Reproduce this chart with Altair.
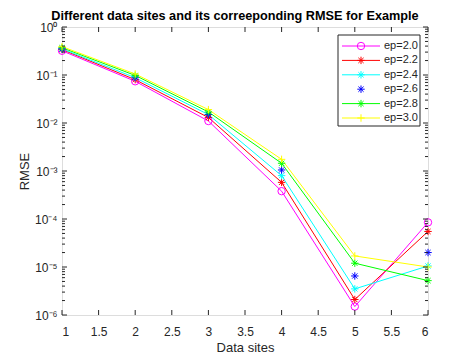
import altair as alt
import pandas as pd

sites = [1, 2, 3, 4, 5, 6]
series_names = ["ep=2.0", "ep=2.2", "ep=2.4", "ep=2.6", "ep=2.8", "ep=3.0"]
colors = ["#ff00ff", "#ff0000", "#00ffff", "#0000ff", "#00ff00", "#ffff00"]
rmse_20 = [0.32, 0.074, 0.011, 3.8e-4, 1.5e-6, 8.5e-5]
rmse_22 = [0.34, 0.080, 0.013, 5.8e-4, 2.1e-6, 5.5e-5]
rmse_24 = [0.35, 0.088, 0.015, 8.0e-4, 3.5e-6, 1.05e-5]
rmse_26 = [0.35, 0.090, 0.015, 1.05e-3, 6.5e-6, 2.0e-5]
rmse_28 = [0.37, 0.098, 0.017, 1.45e-3, 1.2e-5, 5.2e-6]
rmse_30 = [0.39, 0.105, 0.019, 1.75e-3, 1.7e-5, 1.0e-5]
x_ticks = [1, 1.5, 2, 2.5, 3, 3.5, 4, 4.5, 5, 5.5, 6]
y_decades = [1e-6, 1e-5, 1e-4, 1e-3, 1e-2, 1e-1, 1]

STAR = "M-1,0L1,0M0,-1L0,1M-0.7,-0.7L0.7,0.7M-0.7,0.7L0.7,-0.7"
PLUS = "M-1,0L1,0M0,-1L0,1"
shapes = ["circle", STAR, STAR, STAR, STAR, PLUS]
has_line = [True, True, True, False, True, True]

all_series = [rmse_20, rmse_22, rmse_24, rmse_26, rmse_28, rmse_30]
rows = []
for name, vals, hl in zip(series_names, all_series, has_line):
    for s, v in zip(sites, vals):
        rows.append({"site": s, "rmse": v, "series": name, "line": hl})
df = pd.DataFrame(rows)

W, H = 366, 288
AX = "#262626"
FONT = "Liberation Sans"

color_scale = alt.Scale(domain=series_names, range=colors)
shape_scale = alt.Scale(domain=series_names, range=shapes)
xs = alt.Scale(domain=[1, 6], nice=False)
ys = alt.Scale(type="log", domain=[1e-6, 1], nice=False)

sup = "'⁰¹²³⁴⁵⁶⁷⁸⁹'"
label_expr = ("'10' + (datum.value < 1 ? '⁻' : '') + substring(" + sup +
              ", abs(round(log(datum.value)/LN10)), abs(round(log(datum.value)/LN10))+1)")

x_axis = alt.Axis(values=x_ticks, ticks=False, domain=False, grid=False,
                  format="~g", labelOverlap=False,
                  labelPadding=11, titlePadding=4, labelFontSize=12,
                  titleFontSize=13, labelColor=AX, titleColor=AX,
                  titleFontWeight="normal", labelFont=FONT, titleFont=FONT)
y_axis = alt.Axis(values=y_decades, ticks=False, domain=False, grid=False,
                  labelExpr=label_expr, labelPadding=5, titlePadding=3,
                  labelFontSize=12, titleFontSize=13, labelColor=AX,
                  titleColor=AX, titleFontWeight="normal",
                  labelFont=FONT, titleFont=FONT)
x_enc = alt.X("site:Q", scale=xs, title="Data sites", axis=x_axis)
y_enc = alt.Y("rmse:Q", scale=ys, title="RMSE", axis=y_axis)

lines = alt.Chart(df).transform_filter("datum.line").mark_line(strokeWidth=1).encode(
    x=x_enc, y=y_enc,
    color=alt.Color("series:N", scale=color_scale, legend=None),
    detail="series:N",
)
points = alt.Chart(df).mark_point(filled=False, strokeWidth=1, size=55, opacity=1).encode(
    x=x_enc, y=y_enc,
    color=alt.Color("series:N", scale=color_scale, legend=None),
    shape=alt.Shape("series:N", scale=shape_scale, legend=None),
)

# inward tick marks (MATLAB-style box)
minor = []
for d in y_decades[:-1]:
    for k in range(2, 10):
        minor.append({"v": d * k, "major": False})
ytick_df = pd.DataFrame(minor + [{"v": d, "major": True} for d in y_decades])
xtick_df = pd.DataFrame({"v": x_ticks})

yt = alt.Y("v:Q", scale=ys, axis=y_axis, title="RMSE")
left_major = alt.Chart(ytick_df).transform_filter("datum.major").mark_rule(color=AX, strokeWidth=1).encode(
    y=yt, x=alt.value(0), x2=alt.value(5))
left_minor = alt.Chart(ytick_df).transform_filter("!datum.major").mark_rule(color=AX, strokeWidth=1).encode(
    y=yt, x=alt.value(0), x2=alt.value(3))
right_major = alt.Chart(ytick_df).transform_filter("datum.major").mark_rule(color=AX, strokeWidth=1).encode(
    y=yt, x=alt.value(W), x2=alt.value(W - 5))
right_minor = alt.Chart(ytick_df).transform_filter("!datum.major").mark_rule(color=AX, strokeWidth=1).encode(
    y=yt, x=alt.value(W), x2=alt.value(W - 3))
xt = alt.X("v:Q", scale=xs, axis=x_axis, title="Data sites")
bottom_t = alt.Chart(xtick_df).mark_rule(color=AX, strokeWidth=1).encode(
    x=xt, y=alt.value(H), y2=alt.value(H - 5))
top_t = alt.Chart(xtick_df).mark_rule(color=AX, strokeWidth=1).encode(
    x=xt, y=alt.value(0), y2=alt.value(5))

main = alt.layer(lines, points, left_major, left_minor, right_major, right_minor, bottom_t, top_t)

# manual legend (pixel positions within the plot area)
leg_rows = []
for i, (name, hl) in enumerate(zip(series_names, has_line)):
    leg_rows.append({"series": name, "ly": 19 + i * 14.4, "line": hl})
leg_df = pd.DataFrame(leg_rows)
lx = alt.Scale(domain=[0, W], nice=False, zero=False)
ly = alt.Scale(domain=[H, 0], nice=False, zero=False)

box = alt.Chart(pd.DataFrame({"x": [276], "x2": [358], "y": [8], "y2": [99]})).mark_rect(
    fill="white", stroke=AX, strokeWidth=1).encode(
    x=alt.X("x:Q", scale=lx, axis=None), x2="x2:Q",
    y=alt.Y("y:Q", scale=ly, axis=None), y2="y2:Q")
leg_lines = alt.Chart(leg_df).transform_filter("datum.line").transform_calculate(
    a="280", b="318").mark_rule(strokeWidth=1).encode(
    x=alt.X("a:Q", scale=lx, axis=None), x2="b:Q",
    y=alt.Y("ly:Q", scale=ly, axis=None),
    color=alt.Color("series:N", scale=color_scale, legend=None))
leg_pts = alt.Chart(leg_df).transform_calculate(a="299").mark_point(
    filled=False, strokeWidth=1, size=55, opacity=1).encode(
    x=alt.X("a:Q", scale=lx, axis=None),
    y=alt.Y("ly:Q", scale=ly, axis=None),
    color=alt.Color("series:N", scale=color_scale, legend=None),
    shape=alt.Shape("series:N", scale=shape_scale, legend=None))
leg_txt = alt.Chart(leg_df).transform_calculate(a="322").mark_text(
    align="left", baseline="middle", fontSize=11, font=FONT, color=AX).encode(
    x=alt.X("a:Q", scale=lx, axis=None),
    y=alt.Y("ly:Q", scale=ly, axis=None),
    text="series:N")
legend = alt.layer(box, leg_lines, leg_pts, leg_txt)

chart = alt.layer(main, legend).resolve_scale(x="independent", y="independent").properties(
    width=W, height=H,
    title=alt.TitleParams("Different data sites and its correeponding RMSE for Example",
                          fontSize=12.7, fontWeight="bold", font=FONT, color="black",
                          offset=-2, dx=-10, anchor="middle"),
    autosize=alt.AutoSizeParams(type="none"),
    padding={"left": 62, "top": 27, "right": 46, "bottom": 40},
).configure_view(stroke=AX, strokeWidth=1).configure(background="white")

chart.save("out.html", embed_options={"renderer": "svg", "actions": False})
